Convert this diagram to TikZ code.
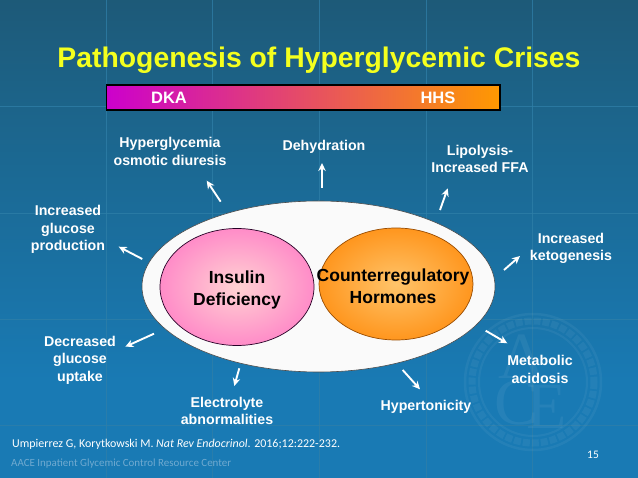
\documentclass[tikz,border=0pt]{standalone}
\usepackage{fontspec}
\setmainfont{Liberation Sans}
\newfontfamily\foot{Carlito}
\newfontfamily\sealfont{Liberation Serif}
\usetikzlibrary{arrows.meta}
\definecolor{bgtop}{HTML}{1F5068}
\definecolor{bgmid}{HTML}{1C6388}
\definecolor{bgbot}{HTML}{197AB4}
\definecolor{gridc}{HTML}{2F7FA8}
\definecolor{titley}{HTML}{F4FF1E}
\definecolor{barl}{HTML}{CC00CC}
\definecolor{barr}{HTML}{FF9900}
\pgfdeclareverticalshading{slidebg}{100bp}{
  color(0bp)=(bgbot); color(35bp)=(bgbot); color(65bp)=(bgmid); color(85bp)=(bgtop); color(100bp)=(bgtop)}
\tikzset{
  grid line/.style={draw=gridc,line width=0.8pt,opacity=0.75},
  seal/.style={draw=white,opacity=0.05},
  sealtext/.style={text=white,text opacity=0.06,font=\sealfont\fontsize{66}{66}\selectfont},
  lab/.style={text=white,align=center,font=\bfseries\fontsize{14.2}{17.4}\selectfont,inner sep=0pt},
  inner lab/.style={text=black,align=center,font=\bfseries\fontsize{17.5}{22}\selectfont,inner sep=0pt},
  bar lab/.style={text=white,font=\bfseries\fontsize{16.5}{18}\selectfont,inner sep=0pt},
  up arrow/.style={draw=white,line width=1.9pt,-{Stealth[length=8pt,width=7.5pt]}},
}
\begin{document}
\begin{tikzpicture}[x=1pt,y=-1pt]
\useasboundingbox (0,0) rectangle (638,478);
\path[shading=slidebg] (0,0) rectangle (638,478);
% grid
\foreach \gx in {106,212,319,426,532}{\draw[grid line] (\gx,0) -- (\gx,478);}
\foreach \gy in {106,213,319,425}{\draw[grid line] (0,\gy) -- (638,\gy);}
% watermark
\draw[seal,line width=2.5pt] (533,382) circle (68);
\draw[seal,line width=7pt,dotted] (533,382) circle (61);
\draw[seal,line width=2pt] (533,382) circle (54);
\node[sealtext] (sealA) at (522,357) {A};
\node[sealtext] (sealC) at (517,403) {C};
\node[sealtext] (sealE) at (547,407) {E};
% title and bar
\node[text=titley,font=\bfseries\fontsize{28.35}{32}\selectfont,inner sep=0pt] (title) at (319,60) {Pathogenesis of Hyperglycemic Crises};
\path[left color=barl,right color=barr,draw=black,line width=1.5pt] (106.5,85) rectangle (500,110);
\node[bar lab] (dka) at (169,98) {DKA};
\node[bar lab] (hhs) at (438,98) {HHS};
% ellipses
\draw[fill=white!98!black,draw=black!70,line width=0.6pt] (318.5,286.5) ellipse (176.5 and 85.5);
\draw[shading=radial,inner color=pink!70!white,outer color={rgb,255:red,255;green,140;blue,200},draw=black!70!violet,line width=0.7pt] (237,287) ellipse (77 and 58.5);
\draw[shading=radial,inner color={rgb,255:red,255;green,196;blue,106},outer color={rgb,255:red,255;green,150;blue,30},draw=black!40!orange,line width=0.7pt] (396,284) ellipse (77 and 56);
\node[inner lab] (ins) at (237,289.5) {Insulin\\Deficiency};
\node[inner lab] (cr) at (393,286) {Counterregulatory\\Hormones};
% labels
\node[lab] (hg) at (170,151.5) {Hyperglycemia\\osmotic diuresis};
\node[lab] (de) at (324,146.5) {Dehydration};
\node[lab] (li) at (480,159) {Lipolysis-\\Increased FFA};
\node[lab] (gp) at (68,229.5) {Increased\\glucose\\production};
\node[lab] (ke) at (571,248.5) {Increased\\ketogenesis};
\node[lab] (gu) at (80,360) {Decreased\\glucose\\uptake};
\node[lab] (ma) at (540,369.5) {Metabolic\\acidosis};
\node[lab] (el) at (227,411) {Electrolyte\\abnormalities};
\node[lab] (hy) at (426,406.5) {Hypertonicity};
% arrows
\coordinate (a1s) at (220.7,201.7); \coordinate (a1e) at (206.7,180.7);
\coordinate (a2s) at (322,188);     \coordinate (a2e) at (322,163);
\coordinate (a3s) at (440,210);     \coordinate (a3e) at (447.7,188.3);
\coordinate (a4s) at (504,270);     \coordinate (a4e) at (520,256);
\coordinate (a5s) at (485.7,330.7); \coordinate (a5e) at (507.3,343.3);
\coordinate (a6s) at (402.7,370);   \coordinate (a6e) at (420,389.3);
\coordinate (a7s) at (239.3,368.3); \coordinate (a7e) at (234.3,386);
\coordinate (a8s) at (154,333.7);   \coordinate (a8e) at (125.3,346.7);
\coordinate (a9s) at (142.3,259);   \coordinate (a9e) at (118.7,246.7);
\foreach \i in {1,...,9}{\draw[up arrow] (a\i s) -- (a\i e);}
% footer
\node[anchor=west,text=white,font=\foot\fontsize{11.95}{15}\selectfont,inner sep=0pt] (ref) at (12,444) {Umpierrez G, Korytkowski M. \textit{Nat Rev Endocrinol}. 2016;12:222-232.};
\node[anchor=west,text={rgb,255:red,112;green,170;blue,208},font=\foot\fontsize{10.95}{14}\selectfont,inner sep=0pt] (org) at (11,464) {AACE Inpatient Glycemic Control Resource Center};
\node[text=white,font=\foot\fontsize{11.5}{14}\selectfont,inner sep=0pt] (pg) at (593,455) {15};
\end{tikzpicture}
\end{document}
